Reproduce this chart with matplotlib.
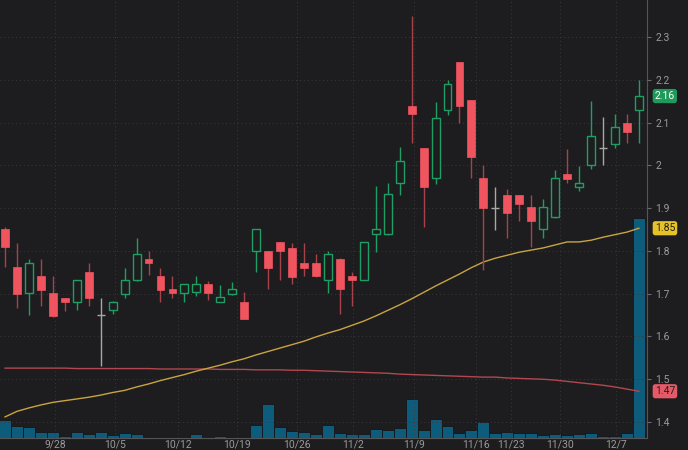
import matplotlib.pyplot as plt
import matplotlib.transforms as mtransforms

# daily candles, oldest first
opens = [1.851, 1.762, 1.702, 1.741, 1.702, 1.690, 1.681, 1.751, 1.650, 1.662,
         1.699, 1.732, 1.781, 1.741, 1.711, 1.702, 1.705, 1.723, 1.681, 1.699,
         1.681, 1.800, 1.800, 1.821, 1.807, 1.772, 1.772, 1.732, 1.781, 1.741,
         1.732, 1.840, 1.840, 1.959, 2.139, 2.041, 1.970, 2.129, 2.242, 2.153,
         1.970, 1.900, 1.931, 1.931, 1.903, 1.851, 1.879, 1.980, 1.949, 2.001,
         2.041, 2.050, 2.099, 2.129]
highs = [1.855, 1.819, 1.781, 1.781, 1.741, 1.691, 1.732, 1.772, 1.690, 1.683,
         1.760, 1.830, 1.800, 1.760, 1.741, 1.723, 1.741, 1.730, 1.720, 1.727,
         1.704, 1.851, 1.800, 1.821, 1.818, 1.818, 1.793, 1.800, 1.783, 1.751,
         1.821, 1.952, 1.959, 2.043, 2.349, 2.041, 2.148, 2.200, 2.242, 2.153,
         2.001, 1.949, 1.945, 1.931, 1.931, 1.921, 1.989, 2.038, 1.998, 2.150,
         2.113, 2.120, 2.120, 2.200]
lows = [1.762, 1.667, 1.650, 1.671, 1.646, 1.660, 1.662, 1.671, 1.531, 1.652,
        1.690, 1.730, 1.744, 1.681, 1.690, 1.681, 1.695, 1.685, 1.680, 1.698,
        1.640, 1.751, 1.711, 1.732, 1.723, 1.741, 1.739, 1.702, 1.653, 1.671,
        1.731, 1.797, 1.838, 1.931, 2.052, 1.856, 1.956, 2.118, 2.099, 1.970,
        1.755, 1.849, 1.830, 1.870, 1.809, 1.830, 1.878, 1.959, 1.940, 1.991,
        2.001, 2.041, 2.052, 2.052]
closes = [1.809, 1.699, 1.772, 1.709, 1.648, 1.681, 1.732, 1.690, 1.650, 1.681,
          1.732, 1.793, 1.772, 1.709, 1.702, 1.723, 1.723, 1.702, 1.692, 1.711,
          1.641, 1.851, 1.760, 1.800, 1.739, 1.760, 1.741, 1.793, 1.711, 1.732,
          1.821, 1.851, 1.933, 2.010, 2.120, 1.949, 2.111, 2.190, 2.139, 2.020,
          1.900, 1.900, 1.889, 1.910, 1.870, 1.903, 1.970, 1.968, 1.959, 2.069,
          2.041, 2.090, 2.078, 2.162]
volume = [18, 12, 11, 6, 6, 2, 6, 4, 6, 3,
          5, 4, 1.5, 1.5, 1.5, 1.5, 4, 0.5, 2, 1.5,
          1.5, 13, 34, 11, 7, 6, 4, 13, 5, 4,
          4, 9, 8, 10, 39, 8, 19, 12, 5, 8,
          16, 5, 6, 5, 5, 3, 4, 3, 4, 5,
          2, 2, 5, 220]
ma_fast = [1.412, 1.425, 1.433, 1.440, 1.446, 1.450, 1.454, 1.458, 1.463, 1.469,
           1.474, 1.482, 1.489, 1.497, 1.504, 1.511, 1.519, 1.526, 1.533, 1.541,
           1.548, 1.557, 1.565, 1.573, 1.581, 1.589, 1.599, 1.608, 1.616, 1.626,
           1.636, 1.648, 1.661, 1.674, 1.688, 1.703, 1.718, 1.732, 1.746, 1.761,
           1.774, 1.783, 1.790, 1.797, 1.802, 1.807, 1.814, 1.821, 1.821, 1.825,
           1.832, 1.838, 1.844, 1.853]
ma_slow = [1.526, 1.526, 1.526, 1.526, 1.526, 1.526, 1.525, 1.525, 1.525, 1.525,
           1.525, 1.525, 1.525, 1.524, 1.524, 1.524, 1.524, 1.524, 1.523, 1.523,
           1.523, 1.522, 1.522, 1.522, 1.521, 1.521, 1.520, 1.519, 1.518, 1.517,
           1.516, 1.515, 1.514, 1.512, 1.511, 1.510, 1.509, 1.508, 1.507, 1.506,
           1.505, 1.505, 1.503, 1.502, 1.501, 1.500, 1.498, 1.495, 1.492, 1.489,
           1.486, 1.482, 1.477, 1.472]
date_pos = [4.2, 9.2, 14.5, 19.4, 24.4, 29.1, 34.2, 39.4, 42.3, 46.4, 51.1]
date_labels = ['9/28', '10/5', '10/12', '10/19', '10/26', '11/2', '11/9',
               '11/16', '11/23', '11/30', '12/7']
price_ticks = [1.4, 1.5, 1.6, 1.7, 1.8, 1.9, 2.0, 2.1, 2.2, 2.3]

BG = '#1d1d1f'
UP = '#1f9e64'
DOWN = '#f0545f'
DOWN_WICK = '#a8424a'
FLAT = '#a8a8a8'
TXT = '#9a9a9a'

plt.rcParams['font.family'] = ['Roboto', 'DejaVu Sans']

fig = plt.figure(figsize=(6.88, 4.5), dpi=100, facecolor=BG)
rect = [0, 12 / 450, 647 / 688, 438 / 450]

# volume in the background
axv = fig.add_axes(rect, facecolor=BG)
x = list(range(len(closes)))
axv.bar(x, volume, width=1.0, color='#0e5c7c', edgecolor='#151517', linewidth=0.6)
axv.set_ylim(0, 438)
axv.set_xlim(-0.42, 53.68)
axv.axis('off')

ax = fig.add_axes(rect, facecolor='none', sharex=axv)
ax.set_ylim(1.3627, 2.3865)

for v in price_ticks:
    ax.axhline(v, color='#3a3a3c', lw=0.7, ls=(0, (1, 3)), zorder=0)
for d in date_pos:
    ax.axvline(d, color='#3a3a3c', lw=0.7, ls=(0, (1, 3)), zorder=0)

ax.plot(x, ma_slow, color='#b2474f', lw=1.0, zorder=2)
ax.plot(x, ma_fast, color='#c9a443', lw=1.0, zorder=2)

bw = 0.66
for i in x:
    o, h, l, c = opens[i], highs[i], lows[i], closes[i]
    if c > o:
        ax.vlines(i, l, h, color=UP, lw=1.0, zorder=3)
        ax.bar(i, c - o, bw, bottom=o, facecolor=BG, edgecolor=UP, lw=1.0, zorder=4)
    elif c < o:
        ax.vlines(i, l, h, color=DOWN_WICK, lw=1.0, zorder=3)
        ax.bar(i, o - c, bw, bottom=c, facecolor=DOWN, edgecolor=DOWN, lw=0.5, zorder=4)
    else:
        ax.vlines(i, l, h, color=FLAT, lw=1.0, zorder=3)
        ax.hlines(c, i - bw / 2, i + bw / 2, color=FLAT, lw=1.0, zorder=4)

ax.yaxis.tick_right()
ax.set_yticks(price_ticks)
ax.set_yticklabels(['%g' % v for v in price_ticks])
ax.set_xticks(date_pos)
ax.set_xticklabels(date_labels)
ax.tick_params(axis='y', colors='#6a6a6a', labelcolor=TXT, labelsize=7.5, length=3, pad=3)
ax.tick_params(axis='x', colors='#6a6a6a', labelcolor=TXT, labelsize=7.5, length=0, pad=1)
for s in ['top', 'left']:
    ax.spines[s].set_visible(False)
ax.spines['right'].set_color('#555558')
ax.spines['bottom'].set_color('#555558')

# last value badges
trans = mtransforms.blended_transform_factory(ax.transAxes, ax.transData)
badges = [(closes[-1], '#1e9a5a', 'white'),
          (ma_fast[-1], '#e6c229', '#202020'),
          (ma_slow[-1], '#e65a68', '#202020')]
for val, fc, tc in badges:
    ax.text(1.012, val, '%.2f' % val, transform=trans, ha='left', va='center',
            fontsize=7.5, color=tc, zorder=10,
            bbox=dict(boxstyle='round,pad=0.2,rounding_size=0.25', fc=fc, ec='none'))

fig.savefig('out.png', dpi=100, facecolor=BG)
